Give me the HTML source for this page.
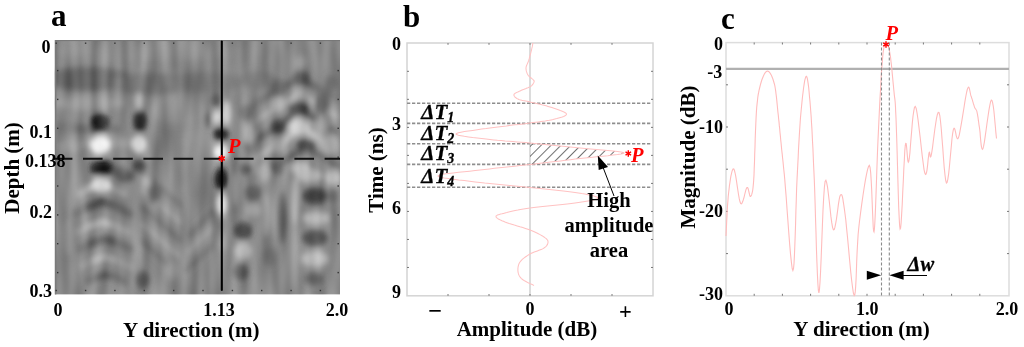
<!DOCTYPE html>
<html><head><meta charset="utf-8"><style>
html,body{margin:0;padding:0;background:#fff;width:1024px;height:347px;overflow:hidden}
svg{display:block}
text{font-family:'Liberation Serif','Times New Roman',serif;font-weight:bold;fill:#000}
</style></head><body>
<svg width="1024" height="347" viewBox="0 0 1024 347">
<defs>
<filter id="bl" x="-10%" y="-10%" width="120%" height="120%"><feGaussianBlur stdDeviation="2.7 3.4"/></filter>
<filter id="st" x="54.8" y="40" width="285.2" height="254.4" filterUnits="userSpaceOnUse" color-interpolation-filters="sRGB">
<feTurbulence type="fractalNoise" baseFrequency="0.1 0.018" numOctaves="1" seed="7" result="n"/>
<feColorMatrix in="n" type="matrix" values="1 0 0 0 0  1 0 0 0 0  1 0 0 0 0  0 0 0 0 1" result="g"/>
<feComposite in="SourceGraphic" in2="g" operator="arithmetic" k1="0" k2="1" k3="0.32" k4="-0.16"/>
</filter>
<clipPath id="ca"><rect x="54.8" y="40" width="285.2" height="254.4"/></clipPath>
<clipPath id="hc"><path d="M530,143 L530.0,143.0 L534.6,143.4 L539.5,143.9 L544.5,144.4 L549.6,144.9 L554.8,145.4 L560.0,145.9 L565.1,146.5 L570.2,147.0 L575.2,147.5 L580.0,148.0 L585.0,148.5 L590.6,149.0 L596.4,149.5 L602.3,150.0 L607.9,150.5 L613.0,151.0 L617.5,151.5 L620.9,152.0 L623.2,152.5 L624.0,153.0 L623.2,153.5 L620.9,154.1 L617.5,154.6 L613.0,155.1 L607.9,155.7 L602.3,156.2 L596.4,156.8 L590.6,157.4 L585.0,157.9 L580.0,158.5 L575.2,159.1 L570.4,159.7 L565.4,160.3 L560.4,160.9 L555.4,161.5 L550.3,162.1 L545.2,162.7 L540.1,163.3 L535.0,163.9 L530.0,164.5 L530,164.5 Z"/></clipPath>
<pattern id="hp" patternUnits="userSpaceOnUse" width="7" height="7" patternTransform="rotate(45 530 143)">
<line x1="0" y1="0" x2="0" y2="7" stroke="#222" stroke-width="1.3"/></pattern>
</defs>
<!-- panel a image -->
<g clip-path="url(#ca)"><g filter="url(#st)">
<rect x="54.8" y="40" width="285.2" height="254.4" fill="#888"/>
<g filter="url(#bl)"><line x1="80" y1="194" x2="90" y2="188" stroke="#a8a8a8" stroke-width="7" stroke-linecap="round"/><line x1="90" y1="188" x2="100" y2="185" stroke="#c8c8c8" stroke-width="7" stroke-linecap="round"/><line x1="100" y1="185" x2="112" y2="188" stroke="#c8c8c8" stroke-width="7" stroke-linecap="round"/><line x1="112" y1="188" x2="124" y2="194" stroke="#a8a8a8" stroke-width="7" stroke-linecap="round"/><line x1="76" y1="213" x2="88" y2="207" stroke="#707070" stroke-width="7" stroke-linecap="round"/><line x1="88" y1="207" x2="102" y2="202" stroke="#505050" stroke-width="7" stroke-linecap="round"/><line x1="102" y1="202" x2="115" y2="206" stroke="#505050" stroke-width="7" stroke-linecap="round"/><line x1="115" y1="206" x2="130" y2="214" stroke="#686868" stroke-width="7" stroke-linecap="round"/><line x1="78" y1="232" x2="90" y2="226" stroke="#a0a0a0" stroke-width="7" stroke-linecap="round"/><line x1="90" y1="226" x2="102" y2="222" stroke="#b8b8b8" stroke-width="7" stroke-linecap="round"/><line x1="102" y1="222" x2="115" y2="226" stroke="#b8b8b8" stroke-width="7" stroke-linecap="round"/><line x1="115" y1="226" x2="128" y2="232" stroke="#a0a0a0" stroke-width="7" stroke-linecap="round"/><line x1="80" y1="249" x2="92" y2="243" stroke="#707070" stroke-width="7" stroke-linecap="round"/><line x1="92" y1="243" x2="105" y2="239" stroke="#555555" stroke-width="7" stroke-linecap="round"/><line x1="105" y1="239" x2="118" y2="243" stroke="#555555" stroke-width="7" stroke-linecap="round"/><line x1="118" y1="243" x2="131" y2="249" stroke="#6c6c6c" stroke-width="7" stroke-linecap="round"/><line x1="82" y1="266" x2="94" y2="260" stroke="#9c9c9c" stroke-width="7" stroke-linecap="round"/><line x1="94" y1="260" x2="105" y2="257" stroke="#b0b0b0" stroke-width="7" stroke-linecap="round"/><line x1="105" y1="257" x2="118" y2="261" stroke="#b0b0b0" stroke-width="7" stroke-linecap="round"/><line x1="118" y1="261" x2="131" y2="267" stroke="#9c9c9c" stroke-width="7" stroke-linecap="round"/><line x1="88" y1="281" x2="98" y2="277" stroke="#6c6c6c" stroke-width="6" stroke-linecap="round"/><line x1="98" y1="277" x2="105" y2="275" stroke="#5a5a5a" stroke-width="6" stroke-linecap="round"/><line x1="105" y1="275" x2="115" y2="277" stroke="#5a5a5a" stroke-width="6" stroke-linecap="round"/><line x1="115" y1="277" x2="125" y2="282" stroke="#6c6c6c" stroke-width="6" stroke-linecap="round"/><line x1="142" y1="172" x2="180" y2="205" stroke="#707070" stroke-width="5" stroke-linecap="round"/><line x1="142" y1="190" x2="180" y2="222" stroke="#a0a0a0" stroke-width="5" stroke-linecap="round"/><line x1="142" y1="207" x2="180" y2="240" stroke="#707070" stroke-width="5" stroke-linecap="round"/><line x1="142" y1="224" x2="178" y2="255" stroke="#a0a0a0" stroke-width="5" stroke-linecap="round"/><line x1="142" y1="241" x2="172" y2="268" stroke="#727272" stroke-width="5" stroke-linecap="round"/><line x1="212" y1="212" x2="190" y2="235" stroke="#707070" stroke-width="5" stroke-linecap="round"/><line x1="212" y1="228" x2="188" y2="252" stroke="#a0a0a0" stroke-width="5" stroke-linecap="round"/><line x1="212" y1="246" x2="186" y2="270" stroke="#727272" stroke-width="5" stroke-linecap="round"/><line x1="246" y1="110" x2="262" y2="100" stroke="#787878" stroke-width="6" stroke-linecap="round"/><line x1="262" y1="100" x2="280" y2="88" stroke="#6c6c6c" stroke-width="6" stroke-linecap="round"/><line x1="280" y1="88" x2="300" y2="79" stroke="#606060" stroke-width="6" stroke-linecap="round"/><line x1="300" y1="79" x2="318" y2="88" stroke="#606060" stroke-width="6" stroke-linecap="round"/><line x1="318" y1="88" x2="336" y2="99" stroke="#707070" stroke-width="6" stroke-linecap="round"/><line x1="246" y1="128" x2="262" y2="117" stroke="#9c9c9c" stroke-width="6" stroke-linecap="round"/><line x1="262" y1="117" x2="280" y2="105" stroke="#a8a8a8" stroke-width="6" stroke-linecap="round"/><line x1="280" y1="105" x2="300" y2="95" stroke="#b4b4b4" stroke-width="6" stroke-linecap="round"/><line x1="300" y1="95" x2="318" y2="104" stroke="#b4b4b4" stroke-width="6" stroke-linecap="round"/><line x1="318" y1="104" x2="336" y2="116" stroke="#a4a4a4" stroke-width="6" stroke-linecap="round"/><line x1="246" y1="146" x2="262" y2="136" stroke="#6c6c6c" stroke-width="6" stroke-linecap="round"/><line x1="262" y1="136" x2="280" y2="126" stroke="#5c5c5c" stroke-width="6" stroke-linecap="round"/><line x1="280" y1="126" x2="300" y2="110" stroke="#505050" stroke-width="6" stroke-linecap="round"/><line x1="300" y1="110" x2="318" y2="120" stroke="#505050" stroke-width="6" stroke-linecap="round"/><line x1="318" y1="120" x2="336" y2="132" stroke="#626262" stroke-width="6" stroke-linecap="round"/><line x1="248" y1="163" x2="262" y2="154" stroke="#a0a0a0" stroke-width="7" stroke-linecap="round"/><line x1="262" y1="154" x2="280" y2="144" stroke="#acacac" stroke-width="7" stroke-linecap="round"/><line x1="280" y1="144" x2="300" y2="128" stroke="#b8b8b8" stroke-width="7" stroke-linecap="round"/><line x1="300" y1="128" x2="318" y2="138" stroke="#bcbcbc" stroke-width="7" stroke-linecap="round"/><line x1="318" y1="138" x2="336" y2="150" stroke="#a8a8a8" stroke-width="7" stroke-linecap="round"/><line x1="250" y1="180" x2="265" y2="170" stroke="#707070" stroke-width="6" stroke-linecap="round"/><line x1="265" y1="170" x2="283" y2="162" stroke="#666666" stroke-width="6" stroke-linecap="round"/><line x1="283" y1="162" x2="305" y2="147" stroke="#5c5c5c" stroke-width="6" stroke-linecap="round"/><line x1="305" y1="147" x2="322" y2="156" stroke="#585858" stroke-width="6" stroke-linecap="round"/><line x1="322" y1="156" x2="338" y2="166" stroke="#6a6a6a" stroke-width="6" stroke-linecap="round"/><ellipse cx="88" cy="79" rx="45" ry="12" fill="#666666"/><ellipse cx="148" cy="84" rx="38" ry="11" fill="#727272"/><ellipse cx="205" cy="82" rx="40" ry="10" fill="#7a7a7a"/><ellipse cx="150" cy="52" rx="95" ry="9" fill="#8e8e8e"/><ellipse cx="258" cy="80" rx="18" ry="9" fill="#7a7a7a"/><ellipse cx="88" cy="103" rx="38" ry="7" fill="#9a9a9a"/><ellipse cx="178" cy="110" rx="28" ry="14" fill="#8f8f8f"/><ellipse cx="301" cy="62" rx="7" ry="6" fill="#989898"/><ellipse cx="70" cy="127" rx="15" ry="6" fill="#7c7c7c"/><ellipse cx="70" cy="146" rx="15" ry="7" fill="#989898"/><ellipse cx="301" cy="78" rx="9" ry="7" fill="#5a5a5a"/><ellipse cx="301" cy="94" rx="9" ry="6" fill="#aaaaaa"/><ellipse cx="299" cy="108" rx="10" ry="7" fill="#4a4a4a"/><ellipse cx="299" cy="127" rx="11" ry="9" fill="#c8c8c8"/><ellipse cx="306" cy="145" rx="10" ry="6" fill="#4a4a4a"/><ellipse cx="278" cy="88" rx="8" ry="9" fill="#666666"/><ellipse cx="278" cy="105" rx="8" ry="8" fill="#b0b0b0"/><ellipse cx="278" cy="127" rx="8" ry="7" fill="#4a4a4a"/><ellipse cx="278" cy="145" rx="8" ry="8" fill="#b0b0b0"/><ellipse cx="322" cy="104" rx="7" ry="10" fill="#6a6a6a"/><ellipse cx="322" cy="125" rx="7" ry="8" fill="#9a9a9a"/><ellipse cx="246" cy="113" rx="6" ry="8" fill="#666666"/><ellipse cx="250" cy="135" rx="6" ry="10" fill="#b0b0b0"/><ellipse cx="331" cy="84" rx="6" ry="9" fill="#707070"/><ellipse cx="330" cy="145" rx="10" ry="10" fill="#a8a8a8"/><ellipse cx="300" cy="168" rx="10" ry="7" fill="#bbbbbb"/><ellipse cx="278" cy="168" rx="6" ry="7" fill="#666666"/><ellipse cx="246" cy="169" rx="6" ry="6" fill="#555555"/><ellipse cx="310" cy="176" rx="13" ry="7" fill="#b8b8b8"/><ellipse cx="315" cy="196" rx="13" ry="8" fill="#4c4c4c"/><ellipse cx="316" cy="218" rx="14" ry="7" fill="#b8b8b8"/><ellipse cx="315" cy="238" rx="13" ry="8" fill="#4c4c4c"/><ellipse cx="315" cy="259" rx="14" ry="8" fill="#b6b6b6"/><ellipse cx="314" cy="279" rx="10" ry="6" fill="#606060"/><ellipse cx="253" cy="193" rx="8" ry="9" fill="#5c5c5c"/><ellipse cx="253" cy="210" rx="8" ry="7" fill="#a4a4a4"/><ellipse cx="243" cy="231" rx="9" ry="9" fill="#404040"/><ellipse cx="243" cy="251" rx="9" ry="9" fill="#b0b0b0"/><ellipse cx="241" cy="272" rx="8" ry="8" fill="#5e5e5e"/><ellipse cx="264" cy="172" rx="7" ry="10" fill="#a4a4a4"/><ellipse cx="266" cy="215" rx="4" ry="22" fill="#a6a6a6"/><ellipse cx="282" cy="218" rx="4" ry="26" fill="#686868"/><ellipse cx="295" cy="200" rx="4" ry="24" fill="#a6a6a6"/><ellipse cx="270" cy="257" rx="8" ry="9" fill="#7a7a7a"/><ellipse cx="333" cy="178" rx="8" ry="8" fill="#bbbbbb"/><ellipse cx="333" cy="196" rx="6" ry="6" fill="#707070"/><ellipse cx="216" cy="100" rx="5" ry="7" fill="#606060"/><ellipse cx="217" cy="117" rx="4" ry="8" fill="#e0e0e0"/><ellipse cx="226.5" cy="113" rx="4" ry="13" fill="#d8d8d8"/><ellipse cx="208" cy="120" rx="3" ry="8" fill="#606060"/><ellipse cx="221" cy="134" rx="8" ry="7" fill="#222222"/><ellipse cx="221" cy="152" rx="7" ry="8" fill="#f2f2f2"/><ellipse cx="221" cy="179" rx="7" ry="11" fill="#1a1a1a"/><ellipse cx="221.5" cy="204" rx="6" ry="11" fill="#d8d8d8"/><ellipse cx="222" cy="226" rx="5" ry="6" fill="#787878"/><ellipse cx="222" cy="244" rx="5" ry="6" fill="#969696"/><ellipse cx="235" cy="189" rx="3" ry="17" fill="#b0b0b0"/><ellipse cx="154" cy="194" rx="6" ry="9" fill="#626262"/><ellipse cx="172" cy="271" rx="6" ry="9" fill="#989898"/><ellipse cx="150" cy="165" rx="2.5" ry="20" fill="#949494"/><ellipse cx="171" cy="160" rx="2.5" ry="22" fill="#949494"/><ellipse cx="194" cy="170" rx="2.5" ry="20" fill="#949494"/><ellipse cx="159" cy="160" rx="3" ry="22" fill="#7c7c7c"/><ellipse cx="183" cy="165" rx="3" ry="22" fill="#7c7c7c"/><ellipse cx="96" cy="129" rx="26" ry="4" fill="#6c6c6c"/><ellipse cx="112" cy="143" rx="36" ry="5" fill="#9c9c9c"/><ellipse cx="100" cy="123" rx="10" ry="10" fill="#282828"/><ellipse cx="100" cy="145" rx="10" ry="10" fill="#eaeaea"/><ellipse cx="102" cy="168" rx="12" ry="8" fill="#1e1e1e"/><ellipse cx="126" cy="176" rx="9" ry="6" fill="#505050"/><ellipse cx="101" cy="185" rx="10" ry="8" fill="#e5e5e5"/><ellipse cx="68" cy="237" rx="5" ry="18" fill="#999999"/><ellipse cx="139" cy="102" rx="4" ry="9" fill="#b0b0b0"/><ellipse cx="140" cy="121" rx="7" ry="11" fill="#303030"/><ellipse cx="139" cy="144" rx="7" ry="10" fill="#e8e8e8"/><ellipse cx="140" cy="166" rx="8" ry="6" fill="#444444"/><ellipse cx="146" cy="182" rx="5" ry="6" fill="#a8a8a8"/><ellipse cx="120" cy="172" rx="8" ry="5" fill="#606060"/><ellipse cx="143" cy="280" rx="7" ry="9" fill="#5a5a5a"/></g>
</g></g>
<line x1="55" y1="40.6" x2="340" y2="40.6" stroke="#777" stroke-width="1"/>
<line x1="55.6" y1="40" x2="55.6" y2="294.4" stroke="#7a7a7a" stroke-width="1.5"/>
<rect x="55.5" y="42.5" width="1.4" height="1.4" fill="#333"/><rect x="55.5" y="289.8" width="1.4" height="1.4" fill="#333"/><rect x="84.9" y="42.5" width="1.4" height="1.4" fill="#333"/><rect x="84.9" y="289.8" width="1.4" height="1.4" fill="#333"/><rect x="114.2" y="42.5" width="1.4" height="1.4" fill="#333"/><rect x="114.2" y="289.8" width="1.4" height="1.4" fill="#333"/><rect x="143.6" y="42.5" width="1.4" height="1.4" fill="#333"/><rect x="143.6" y="289.8" width="1.4" height="1.4" fill="#333"/><rect x="173.0" y="42.5" width="1.4" height="1.4" fill="#333"/><rect x="173.0" y="289.8" width="1.4" height="1.4" fill="#333"/><rect x="202.3" y="42.5" width="1.4" height="1.4" fill="#333"/><rect x="202.3" y="289.8" width="1.4" height="1.4" fill="#333"/><rect x="231.7" y="42.5" width="1.4" height="1.4" fill="#333"/><rect x="231.7" y="289.8" width="1.4" height="1.4" fill="#333"/><rect x="261.0" y="42.5" width="1.4" height="1.4" fill="#333"/><rect x="261.0" y="289.8" width="1.4" height="1.4" fill="#333"/><rect x="290.4" y="42.5" width="1.4" height="1.4" fill="#333"/><rect x="290.4" y="289.8" width="1.4" height="1.4" fill="#333"/><rect x="319.7" y="42.5" width="1.4" height="1.4" fill="#333"/><rect x="319.7" y="289.8" width="1.4" height="1.4" fill="#333"/><rect x="57" y="69.9" width="1.4" height="1.4" fill="#333"/><rect x="337.5" y="69.9" width="1.4" height="1.4" fill="#333"/><rect x="57" y="98.7" width="1.4" height="1.4" fill="#333"/><rect x="337.5" y="98.7" width="1.4" height="1.4" fill="#333"/><rect x="57" y="127.6" width="1.4" height="1.4" fill="#333"/><rect x="337.5" y="127.6" width="1.4" height="1.4" fill="#333"/><rect x="57" y="156.5" width="1.4" height="1.4" fill="#333"/><rect x="337.5" y="156.5" width="1.4" height="1.4" fill="#333"/><rect x="57" y="185.3" width="1.4" height="1.4" fill="#333"/><rect x="337.5" y="185.3" width="1.4" height="1.4" fill="#333"/><rect x="57" y="214.2" width="1.4" height="1.4" fill="#333"/><rect x="337.5" y="214.2" width="1.4" height="1.4" fill="#333"/><rect x="57" y="243.0" width="1.4" height="1.4" fill="#333"/><rect x="337.5" y="243.0" width="1.4" height="1.4" fill="#333"/><rect x="57" y="271.9" width="1.4" height="1.4" fill="#333"/><rect x="337.5" y="271.9" width="1.4" height="1.4" fill="#333"/>
<line x1="221.8" y1="41.5" x2="221.8" y2="290" stroke="#000" stroke-width="2.1" stroke-linecap="round"/>
<line x1="52.8" y1="158.8" x2="340" y2="158.8" stroke="#111" stroke-width="2" stroke-dasharray="19.6 10.6"/>
<line x1="221.70" y1="155.00" x2="221.70" y2="162.00" stroke="#ff0000" stroke-width="1.6"/><line x1="224.73" y1="156.75" x2="218.67" y2="160.25" stroke="#ff0000" stroke-width="1.6"/><line x1="224.73" y1="160.25" x2="218.67" y2="156.75" stroke="#ff0000" stroke-width="1.6"/>
<!-- panel b -->
<rect x="407" y="43" width="246" height="252.8" fill="none" stroke="#d4d4d4" stroke-width="1.5"/>
<line x1="530" y1="43" x2="530" y2="295.8" stroke="#d0d0d0" stroke-width="1.5"/>
<line x1="448" y1="43" x2="448" y2="44.8" stroke="#777" stroke-width="1"/><line x1="448" y1="295.8" x2="448" y2="294" stroke="#777" stroke-width="1"/><line x1="489" y1="43" x2="489" y2="44.8" stroke="#777" stroke-width="1"/><line x1="489" y1="295.8" x2="489" y2="294" stroke="#777" stroke-width="1"/><line x1="530" y1="43" x2="530" y2="44.8" stroke="#777" stroke-width="1"/><line x1="530" y1="295.8" x2="530" y2="294" stroke="#777" stroke-width="1"/><line x1="571" y1="43" x2="571" y2="44.8" stroke="#777" stroke-width="1"/><line x1="571" y1="295.8" x2="571" y2="294" stroke="#777" stroke-width="1"/><line x1="612" y1="43" x2="612" y2="44.8" stroke="#777" stroke-width="1"/><line x1="612" y1="295.8" x2="612" y2="294" stroke="#777" stroke-width="1"/><line x1="407" y1="71.32" x2="409" y2="71.32" stroke="#777" stroke-width="1"/><line x1="653" y1="71.32" x2="651" y2="71.32" stroke="#777" stroke-width="1"/><line x1="407" y1="99.34" x2="409" y2="99.34" stroke="#777" stroke-width="1"/><line x1="653" y1="99.34" x2="651" y2="99.34" stroke="#777" stroke-width="1"/><line x1="407" y1="127.36" x2="409" y2="127.36" stroke="#777" stroke-width="1"/><line x1="653" y1="127.36" x2="651" y2="127.36" stroke="#777" stroke-width="1"/><line x1="407" y1="155.38" x2="409" y2="155.38" stroke="#777" stroke-width="1"/><line x1="653" y1="155.38" x2="651" y2="155.38" stroke="#777" stroke-width="1"/><line x1="407" y1="183.39999999999998" x2="409" y2="183.39999999999998" stroke="#777" stroke-width="1"/><line x1="653" y1="183.39999999999998" x2="651" y2="183.39999999999998" stroke="#777" stroke-width="1"/><line x1="407" y1="211.42000000000002" x2="409" y2="211.42000000000002" stroke="#777" stroke-width="1"/><line x1="653" y1="211.42000000000002" x2="651" y2="211.42000000000002" stroke="#777" stroke-width="1"/><line x1="407" y1="239.44" x2="409" y2="239.44" stroke="#777" stroke-width="1"/><line x1="653" y1="239.44" x2="651" y2="239.44" stroke="#777" stroke-width="1"/><line x1="407" y1="267.46" x2="409" y2="267.46" stroke="#777" stroke-width="1"/><line x1="653" y1="267.46" x2="651" y2="267.46" stroke="#777" stroke-width="1"/>
<g stroke="#8e8e8e" stroke-width="1.6" stroke-dasharray="3.3 1.7">
<line x1="407" y1="103.3" x2="651" y2="103.3"/>
<line x1="407" y1="123.4" x2="651" y2="123.4"/>
<line x1="407" y1="143.8" x2="651" y2="143.8"/>
<line x1="407" y1="164.4" x2="651" y2="164.4"/>
<line x1="407" y1="187.2" x2="651" y2="187.2"/>
</g>
<rect x="500" y="130" width="160" height="50" fill="url(#hp)" clip-path="url(#hc)"/>
<path d="M533.0,43.0 L532.9,43.5 L532.7,44.2 L532.6,45.0 L532.4,46.0 L532.2,46.9 L531.9,48.0 L531.7,49.0 L531.5,50.1 L531.2,51.1 L531.0,52.0 L530.8,52.9 L530.5,53.8 L530.3,54.8 L530.0,55.7 L529.8,56.6 L529.5,57.5 L529.3,58.4 L529.0,59.3 L528.8,60.2 L528.5,61.0 L528.2,61.8 L527.9,62.5 L527.6,63.2 L527.3,63.9 L527.0,64.6 L526.7,65.3 L526.4,66.0 L526.2,66.6 L526.1,67.3 L526.0,68.0 L526.0,68.7 L526.1,69.4 L526.2,70.2 L526.3,70.9 L526.5,71.7 L526.8,72.4 L527.0,73.1 L527.3,73.8 L527.7,74.4 L528.0,75.0 L528.4,75.6 L528.9,76.1 L529.4,76.6 L530.0,77.1 L530.6,77.5 L531.1,78.0 L531.7,78.4 L532.2,78.8 L532.6,79.1 L533.0,79.5 L533.3,79.8 L533.5,80.1 L533.7,80.3 L533.9,80.5 L534.0,80.8 L534.1,81.0 L534.2,81.2 L534.2,81.4 L534.1,81.7 L534.0,82.0 L533.9,82.4 L533.7,82.8 L533.5,83.2 L533.2,83.7 L532.9,84.2 L532.5,84.6 L532.1,85.1 L531.7,85.6 L531.1,86.1 L530.5,86.5 L529.8,86.9 L528.9,87.3 L528.0,87.7 L527.0,88.1 L526.0,88.5 L524.9,88.9 L523.9,89.3 L522.8,89.7 L521.9,90.1 L521.0,90.5 L520.1,90.9 L519.3,91.3 L518.4,91.7 L517.5,92.1 L516.7,92.5 L515.9,92.9 L515.2,93.3 L514.7,93.7 L514.2,94.1 L514.0,94.5 L513.9,94.9 L514.0,95.4 L514.1,95.9 L514.4,96.3 L514.8,96.8 L515.3,97.3 L515.9,97.7 L516.5,98.2 L517.2,98.6 L518.0,99.0 L518.8,99.4 L519.8,99.7 L520.8,99.9 L521.8,100.2 L523.0,100.5 L524.2,100.7 L525.6,101.0 L527.0,101.3 L528.4,101.6 L530.0,102.0 L531.7,102.4 L533.5,102.8 L535.5,103.3 L537.6,103.8 L539.7,104.2 L541.9,104.8 L544.0,105.3 L546.1,105.8 L548.1,106.4 L550.0,107.0 L551.9,107.6 L554.0,108.3 L556.2,109.0 L558.3,109.7 L560.3,110.5 L562.2,111.2 L563.9,111.9 L565.2,112.7 L566.1,113.4 L566.5,114.0 L566.4,114.6 L565.9,115.2 L565.0,115.8 L563.7,116.4 L562.2,117.0 L560.5,117.5 L558.7,118.0 L556.8,118.6 L554.9,119.0 L553.0,119.5 L551.2,119.9 L549.3,120.3 L547.3,120.6 L545.3,121.0 L543.2,121.3 L540.9,121.6 L538.4,121.9 L535.8,122.2 L533.0,122.6 L530.0,123.0 L526.7,123.4 L523.0,123.9 L519.1,124.4 L514.9,124.8 L510.7,125.3 L506.4,125.9 L502.1,126.4 L497.9,126.9 L493.8,127.5 L490.0,128.0 L486.1,128.6 L481.7,129.1 L477.2,129.7 L472.7,130.4 L468.4,131.0 L464.4,131.6 L461.0,132.2 L458.4,132.8 L456.6,133.4 L456.0,134.0 L456.6,134.6 L458.4,135.2 L461.0,135.7 L464.4,136.3 L468.4,136.9 L472.7,137.5 L477.2,138.0 L481.7,138.5 L486.1,139.0 L490.0,139.5 L493.7,139.9 L497.5,140.3 L501.2,140.6 L505.1,141.0 L509.0,141.3 L513.0,141.6 L517.1,141.9 L521.3,142.2 L525.6,142.6 L530.0,143.0 L534.6,143.4 L539.5,143.9 L544.5,144.4 L549.6,144.9 L554.8,145.4 L560.0,145.9 L565.1,146.5 L570.2,147.0 L575.2,147.5 L580.0,148.0 L585.0,148.5 L590.6,149.0 L596.4,149.5 L602.3,150.0 L607.9,150.5 L613.0,151.0 L617.5,151.5 L620.9,152.0 L623.2,152.5 L624.0,153.0 L623.2,153.5 L620.9,154.1 L617.5,154.6 L613.0,155.1 L607.9,155.7 L602.3,156.2 L596.4,156.8 L590.6,157.4 L585.0,157.9 L580.0,158.5 L575.2,159.1 L570.4,159.7 L565.4,160.3 L560.4,160.9 L555.4,161.5 L550.3,162.1 L545.2,162.7 L540.1,163.3 L535.0,163.9 L530.0,164.5 L525.0,165.1 L519.9,165.6 L514.7,166.2 L509.6,166.7 L504.5,167.2 L499.4,167.8 L494.4,168.3 L489.5,168.9 L484.7,169.4 L480.0,170.0 L475.1,170.6 L469.7,171.2 L464.2,171.7 L458.6,172.3 L453.2,172.9 L448.4,173.5 L444.2,174.1 L440.9,174.8 L438.8,175.4 L438.0,176.0 L438.8,176.6 L440.9,177.3 L444.2,178.0 L448.4,178.6 L453.2,179.3 L458.6,180.0 L464.2,180.6 L469.7,181.3 L475.1,181.9 L480.0,182.5 L484.7,183.1 L489.6,183.6 L494.6,184.1 L499.7,184.6 L504.8,185.1 L510.0,185.6 L515.1,186.0 L520.2,186.5 L525.2,187.0 L530.0,187.5 L534.8,188.0 L539.7,188.5 L544.6,189.0 L549.4,189.5 L554.2,190.0 L558.8,190.5 L563.3,191.0 L567.5,191.5 L571.4,192.0 L575.0,192.5 L578.4,193.0 L581.7,193.6 L585.0,194.1 L588.0,194.7 L590.8,195.2 L593.2,195.8 L595.2,196.4 L596.7,196.9 L597.7,197.5 L598.0,198.0 L597.7,198.5 L596.7,199.0 L595.2,199.5 L593.2,200.0 L590.8,200.5 L588.0,201.0 L585.0,201.5 L581.7,202.0 L578.4,202.5 L575.0,203.0 L571.3,203.5 L567.1,204.0 L562.5,204.5 L557.6,205.0 L552.6,205.5 L547.6,206.0 L542.7,206.5 L538.1,207.0 L533.8,207.5 L530.0,208.0 L526.6,208.5 L523.5,209.0 L520.5,209.5 L517.8,210.1 L515.2,210.6 L512.9,211.1 L510.7,211.6 L508.7,212.1 L506.8,212.6 L505.0,213.0 L503.4,213.4 L501.9,213.8 L500.6,214.1 L499.4,214.4 L498.4,214.7 L497.5,215.0 L496.9,215.4 L496.4,215.7 L496.1,216.1 L496.0,216.5 L496.1,217.0 L496.4,217.4 L496.9,217.9 L497.5,218.4 L498.4,219.0 L499.4,219.5 L500.6,220.1 L501.9,220.7 L503.4,221.3 L505.0,222.0 L506.9,222.7 L509.2,223.5 L511.7,224.2 L514.4,225.1 L517.2,225.9 L520.0,226.8 L522.8,227.6 L525.4,228.4 L527.9,229.2 L530.0,230.0 L531.9,230.7 L533.7,231.5 L535.3,232.2 L536.9,233.0 L538.3,233.7 L539.6,234.4 L540.9,235.1 L542.0,235.7 L543.1,236.4 L544.0,237.0 L544.8,237.6 L545.6,238.1 L546.2,238.6 L546.7,239.1 L547.1,239.6 L547.5,240.0 L547.7,240.5 L547.9,241.0 L548.0,241.5 L548.0,242.0 L548.0,242.6 L547.9,243.1 L547.7,243.7 L547.5,244.3 L547.1,244.9 L546.7,245.6 L546.2,246.2 L545.6,246.8 L544.8,247.4 L544.0,248.0 L543.0,248.6 L541.8,249.2 L540.4,249.7 L538.9,250.3 L537.4,250.9 L535.8,251.5 L534.2,252.1 L532.7,252.7 L531.3,253.3 L530.0,254.0 L528.8,254.7 L527.6,255.4 L526.5,256.2 L525.3,257.0 L524.2,257.8 L523.2,258.6 L522.3,259.4 L521.4,260.3 L520.7,261.1 L520.0,262.0 L519.4,262.9 L519.0,263.8 L518.6,264.8 L518.3,265.8 L518.1,266.8 L518.0,267.8 L517.9,268.7 L517.9,269.7 L517.9,270.6 L518.0,271.5 L518.1,272.3 L518.3,273.1 L518.5,273.9 L518.8,274.7 L519.1,275.4 L519.5,276.2 L520.0,276.9 L520.6,277.6 L521.2,278.3 L522.0,279.0 L522.9,279.7 L524.1,280.5 L525.4,281.2 L526.8,282.0 L528.2,282.7 L529.7,283.4 L531.0,284.1 L532.2,284.6 L533.3,285.1 L534.0,285.5" fill="none" stroke="#ffc2c2" stroke-width="1.05"/>
<line x1="628.30" y1="150.30" x2="628.30" y2="156.70" stroke="#ff0000" stroke-width="1.4"/><line x1="631.07" y1="151.90" x2="625.53" y2="155.10" stroke="#ff0000" stroke-width="1.4"/><line x1="631.07" y1="155.10" x2="625.53" y2="151.90" stroke="#ff0000" stroke-width="1.4"/>
<line x1="614" y1="196" x2="601" y2="162" stroke="#000" stroke-width="1"/>
<polygon points="597.8,155.6 598.7,170 608,167" fill="#000"/>
<!-- panel c -->
<rect x="726" y="42.6" width="283" height="253.2" fill="none" stroke="#ddd" stroke-width="1.5"/>
<line x1="754.2" y1="42.5" x2="754.2" y2="44.5" stroke="#777" stroke-width="1"/><line x1="754.2" y1="295.8" x2="754.2" y2="293.8" stroke="#777" stroke-width="1"/><line x1="782.4" y1="42.5" x2="782.4" y2="44.5" stroke="#777" stroke-width="1"/><line x1="782.4" y1="295.8" x2="782.4" y2="293.8" stroke="#777" stroke-width="1"/><line x1="810.6" y1="42.5" x2="810.6" y2="44.5" stroke="#777" stroke-width="1"/><line x1="810.6" y1="295.8" x2="810.6" y2="293.8" stroke="#777" stroke-width="1"/><line x1="838.8" y1="42.5" x2="838.8" y2="44.5" stroke="#777" stroke-width="1"/><line x1="838.8" y1="295.8" x2="838.8" y2="293.8" stroke="#777" stroke-width="1"/><line x1="867.0" y1="42.5" x2="867.0" y2="44.5" stroke="#777" stroke-width="1"/><line x1="867.0" y1="295.8" x2="867.0" y2="293.8" stroke="#777" stroke-width="1"/><line x1="895.2" y1="42.5" x2="895.2" y2="44.5" stroke="#777" stroke-width="1"/><line x1="895.2" y1="295.8" x2="895.2" y2="293.8" stroke="#777" stroke-width="1"/><line x1="923.4" y1="42.5" x2="923.4" y2="44.5" stroke="#777" stroke-width="1"/><line x1="923.4" y1="295.8" x2="923.4" y2="293.8" stroke="#777" stroke-width="1"/><line x1="951.6" y1="42.5" x2="951.6" y2="44.5" stroke="#777" stroke-width="1"/><line x1="951.6" y1="295.8" x2="951.6" y2="293.8" stroke="#777" stroke-width="1"/><line x1="979.8" y1="42.5" x2="979.8" y2="44.5" stroke="#777" stroke-width="1"/><line x1="979.8" y1="295.8" x2="979.8" y2="293.8" stroke="#777" stroke-width="1"/><line x1="726" y1="84.8" x2="728" y2="84.8" stroke="#777" stroke-width="1"/><line x1="1009" y1="84.8" x2="1007" y2="84.8" stroke="#777" stroke-width="1"/><line x1="726" y1="127.0" x2="728" y2="127.0" stroke="#777" stroke-width="1"/><line x1="1009" y1="127.0" x2="1007" y2="127.0" stroke="#777" stroke-width="1"/><line x1="726" y1="169.2" x2="728" y2="169.2" stroke="#777" stroke-width="1"/><line x1="1009" y1="169.2" x2="1007" y2="169.2" stroke="#777" stroke-width="1"/><line x1="726" y1="211.4" x2="728" y2="211.4" stroke="#777" stroke-width="1"/><line x1="1009" y1="211.4" x2="1007" y2="211.4" stroke="#777" stroke-width="1"/><line x1="726" y1="253.6" x2="728" y2="253.6" stroke="#777" stroke-width="1"/><line x1="1009" y1="253.6" x2="1007" y2="253.6" stroke="#777" stroke-width="1"/>
<line x1="726" y1="68.9" x2="1009" y2="68.9" stroke="#b0b0b0" stroke-width="2.2"/>
<path d="M726.0,236.0 L726.1,233.4 L726.3,229.8 L726.5,225.7 L726.7,221.0 L727.0,216.0 L727.2,210.9 L727.5,205.9 L727.9,201.1 L728.2,196.7 L728.6,193.0 L729.0,189.6 L729.4,186.0 L729.9,182.6 L730.4,179.2 L730.9,176.2 L731.5,173.5 L732.0,171.3 L732.6,169.8 L733.2,168.9 L733.8,169.0 L734.4,170.3 L735.1,173.0 L735.8,176.6 L736.5,181.0 L737.2,185.8 L737.9,190.5 L738.6,195.0 L739.3,198.9 L740.0,201.8 L740.7,203.5 L741.4,203.8 L742.0,203.1 L742.7,201.6 L743.4,199.5 L744.1,197.1 L744.7,194.5 L745.3,192.1 L745.9,189.9 L746.5,188.3 L747.0,187.5 L747.5,187.5 L747.9,188.1 L748.3,189.2 L748.6,190.5 L748.9,192.0 L749.3,193.5 L749.6,194.9 L749.9,195.9 L750.2,196.5 L750.5,196.5 L750.8,196.1 L751.2,195.7 L751.5,195.0 L751.8,194.2 L752.1,193.1 L752.5,191.5 L752.8,189.5 L753.1,187.0 L753.4,183.9 L753.7,180.0 L754.0,175.1 L754.2,169.1 L754.5,162.1 L754.7,154.6 L755.0,146.7 L755.2,138.8 L755.5,131.1 L755.8,123.9 L756.1,117.4 L756.4,112.0 L756.7,107.5 L757.1,103.6 L757.5,100.2 L757.8,97.2 L758.2,94.6 L758.7,92.2 L759.1,90.0 L759.6,88.0 L760.1,86.0 L760.6,84.0 L761.2,82.0 L761.8,80.0 L762.5,78.2 L763.2,76.5 L763.9,74.9 L764.6,73.6 L765.3,72.5 L766.1,71.7 L766.8,71.2 L767.5,71.0 L768.2,71.2 L768.9,71.7 L769.7,72.5 L770.4,73.6 L771.2,74.9 L771.9,76.5 L772.6,78.2 L773.2,80.0 L773.8,82.0 L774.4,84.0 L774.9,86.2 L775.3,88.5 L775.7,91.1 L776.0,93.8 L776.4,96.6 L776.7,99.6 L777.0,102.6 L777.3,105.7 L777.6,108.9 L777.9,112.0 L778.3,115.2 L778.6,118.5 L779.0,121.9 L779.3,125.4 L779.7,129.0 L780.0,132.5 L780.4,136.1 L780.7,139.7 L781.1,143.2 L781.4,146.6 L781.7,149.7 L782.0,152.4 L782.3,154.9 L782.5,157.3 L782.8,159.8 L783.1,162.6 L783.4,165.8 L783.8,169.7 L784.3,174.4 L784.8,180.0 L785.4,187.6 L786.2,197.3 L787.0,208.7 L787.9,220.8 L788.8,233.0 L789.7,244.6 L790.6,254.9 L791.5,263.1 L792.2,268.5 L792.9,270.5 L793.5,268.7 L794.0,263.6 L794.4,255.9 L794.8,246.3 L795.2,235.2 L795.6,223.3 L795.9,211.2 L796.3,199.6 L796.6,189.0 L797.0,180.0 L797.4,172.1 L797.8,164.4 L798.2,156.9 L798.5,149.6 L798.9,142.6 L799.3,135.8 L799.7,129.3 L800.1,123.2 L800.5,117.4 L801.0,112.0 L801.5,106.8 L802.0,101.7 L802.5,96.7 L803.1,92.0 L803.6,87.7 L804.2,83.9 L804.7,80.7 L805.3,78.4 L805.8,76.8 L806.3,76.3 L806.8,76.8 L807.3,78.4 L807.7,80.7 L808.2,83.9 L808.7,87.7 L809.1,92.0 L809.5,96.7 L810.0,101.7 L810.4,106.8 L810.8,112.0 L811.2,117.3 L811.5,122.8 L811.9,128.6 L812.2,134.7 L812.5,141.2 L812.9,148.0 L813.2,155.3 L813.5,163.0 L813.9,171.2 L814.3,180.0 L814.7,190.5 L815.1,203.3 L815.5,217.7 L816.0,232.7 L816.4,247.7 L816.9,261.8 L817.4,274.2 L817.9,284.0 L818.4,290.6 L818.9,293.0 L819.4,290.2 L820.0,282.5 L820.6,271.0 L821.2,256.9 L821.8,241.3 L822.4,225.4 L823.0,210.3 L823.7,197.2 L824.4,187.2 L825.1,181.5 L825.9,180.2 L826.6,182.3 L827.5,186.9 L828.3,193.3 L829.2,200.8 L830.1,208.8 L830.9,216.4 L831.8,222.9 L832.6,227.6 L833.4,229.8 L834.2,229.5 L834.9,227.4 L835.6,223.9 L836.4,219.4 L837.1,214.4 L837.8,209.3 L838.4,204.4 L839.1,200.1 L839.7,197.0 L840.3,195.3 L840.8,194.7 L841.3,194.6 L841.7,194.9 L842.1,195.8 L842.5,197.2 L842.9,199.2 L843.3,201.9 L843.8,205.1 L844.4,209.1 L845.0,213.7 L845.8,220.0 L846.6,228.4 L847.6,238.3 L848.6,249.0 L849.6,260.0 L850.6,270.5 L851.6,280.0 L852.6,287.7 L853.4,293.1 L854.2,295.5 L854.8,294.7 L855.3,291.4 L855.7,285.9 L856.1,278.8 L856.4,270.5 L856.7,261.5 L857.1,252.2 L857.6,243.1 L858.1,234.7 L858.8,227.5 L859.6,220.5 L860.6,212.6 L861.7,204.4 L862.9,196.0 L864.1,188.0 L865.3,180.6 L866.5,174.3 L867.6,169.4 L868.6,166.3 L869.4,165.3 L870.1,167.5 L870.7,172.9 L871.2,180.8 L871.7,190.3 L872.1,200.5 L872.5,210.6 L872.9,219.6 L873.2,226.8 L873.6,231.2 L874.0,232.0 L874.4,229.2 L874.8,223.5 L875.2,215.5 L875.6,205.8 L876.0,194.9 L876.4,183.2 L876.8,171.3 L877.2,159.9 L877.6,149.2 L878.0,140.0 L878.4,131.6 L878.8,123.0 L879.2,114.5 L879.6,106.2 L880.0,98.1 L880.5,90.3 L880.9,83.0 L881.2,76.3 L881.6,70.2 L882.0,65.0 L882.4,60.6 L882.7,56.9 L883.0,53.8 L883.3,51.3 L883.6,49.3 L883.9,47.7 L884.3,46.5 L884.6,45.5 L884.9,44.7 L885.3,44.0 L885.7,43.5 L886.1,43.3 L886.5,43.3 L887.0,43.7 L887.4,44.3 L887.9,45.2 L888.4,46.5 L888.8,48.0 L889.3,49.9 L889.7,52.0 L890.1,54.6 L890.6,57.8 L891.0,61.5 L891.5,65.5 L891.9,69.8 L892.3,74.1 L892.7,78.4 L893.1,82.6 L893.5,86.5 L893.8,90.0 L894.1,92.8 L894.3,94.9 L894.5,96.5 L894.7,97.9 L894.9,99.4 L895.1,101.3 L895.3,103.8 L895.5,107.2 L895.7,111.9 L896.0,118.0 L896.3,126.6 L896.7,138.0 L897.1,151.3 L897.5,165.8 L897.9,180.5 L898.3,194.6 L898.7,207.4 L899.2,217.9 L899.6,225.4 L900.1,229.0 L900.6,228.1 L901.1,223.1 L901.6,215.1 L902.2,204.8 L902.7,193.1 L903.3,181.0 L903.8,169.3 L904.4,158.9 L904.8,150.6 L905.3,145.4 L905.7,143.3 L906.1,143.4 L906.4,145.1 L906.7,148.0 L907.0,151.6 L907.3,155.3 L907.6,158.7 L907.9,161.2 L908.3,162.2 L908.8,161.4 L909.3,158.2 L909.9,153.0 L910.4,146.3 L911.0,138.7 L911.7,130.7 L912.3,123.1 L913.0,116.2 L913.8,110.8 L914.5,107.3 L915.3,106.4 L916.2,108.5 L917.1,113.3 L918.1,120.2 L919.1,128.5 L920.2,137.5 L921.2,146.8 L922.2,155.6 L923.2,163.3 L924.0,169.3 L924.8,173.0 L925.5,174.4 L926.0,174.1 L926.5,172.6 L927.0,170.1 L927.4,166.9 L927.8,163.4 L928.1,159.9 L928.5,156.7 L928.8,154.2 L929.1,152.7 L929.4,152.2 L929.6,152.4 L929.7,153.1 L929.9,154.1 L930.0,155.2 L930.1,156.2 L930.3,156.9 L930.5,157.0 L930.9,156.5 L931.3,155.0 L931.8,152.1 L932.5,147.6 L933.2,142.0 L934.0,135.8 L934.8,129.5 L935.7,123.5 L936.5,118.4 L937.4,114.5 L938.2,112.4 L939.0,112.5 L939.8,115.5 L940.5,121.3 L941.3,129.2 L942.0,138.5 L942.8,148.4 L943.5,158.3 L944.2,167.4 L945.0,175.0 L945.7,180.5 L946.4,183.0 L947.1,182.4 L947.8,179.3 L948.6,174.2 L949.3,167.7 L950.0,160.3 L950.7,152.6 L951.4,145.2 L952.0,138.5 L952.7,133.2 L953.3,129.8 L953.9,128.4 L954.4,128.4 L954.9,129.4 L955.3,131.2 L955.8,133.4 L956.2,135.6 L956.7,137.4 L957.3,138.6 L957.8,138.8 L958.5,137.6 L959.3,134.8 L960.1,130.7 L961.0,125.6 L962.0,119.8 L963.0,113.6 L964.0,107.5 L964.9,101.7 L965.8,96.5 L966.6,92.4 L967.3,89.5 L967.9,87.9 L968.4,87.2 L968.8,87.3 L969.2,88.0 L969.5,89.1 L969.8,90.5 L970.1,92.0 L970.4,93.5 L970.7,94.9 L971.0,96.0 L971.4,96.9 L971.7,98.0 L972.1,99.2 L972.5,100.4 L972.8,101.6 L973.2,102.8 L973.5,104.0 L973.9,105.1 L974.2,106.1 L974.5,107.0 L974.8,107.7 L975.1,108.2 L975.3,108.6 L975.6,108.9 L975.8,109.2 L976.0,109.5 L976.3,109.9 L976.5,110.4 L976.8,111.1 L977.0,112.0 L977.2,113.1 L977.5,114.4 L977.7,115.8 L978.0,117.4 L978.2,119.0 L978.4,120.7 L978.7,122.5 L978.9,124.3 L979.2,126.2 L979.5,128.0 L979.8,130.2 L980.1,132.9 L980.3,136.0 L980.6,139.2 L980.9,142.3 L981.2,145.1 L981.6,147.4 L982.0,148.8 L982.5,149.3 L983.0,148.6 L983.6,146.2 L984.4,141.9 L985.2,136.4 L986.1,130.0 L987.0,123.2 L988.0,116.5 L988.9,110.4 L989.8,105.3 L990.6,101.6 L991.3,100.0 L992.0,100.5 L992.6,102.7 L993.3,106.4 L993.9,111.0 L994.4,116.2 L994.9,121.7 L995.4,127.0 L995.8,131.9 L996.2,135.8 L996.5,138.5" fill="none" stroke="#ffbcbc" stroke-width="1.1"/>
<g stroke="#8a8a8a" stroke-width="1.1" stroke-dasharray="3 2">
<line x1="881.5" y1="42.6" x2="881.5" y2="295.8"/>
<line x1="889.3" y1="42.6" x2="889.3" y2="295.8"/>
</g>
<line x1="886.00" y1="41.20" x2="886.00" y2="47.80" stroke="#ff0000" stroke-width="1.4"/><line x1="888.86" y1="42.85" x2="883.14" y2="46.15" stroke="#ff0000" stroke-width="1.4"/><line x1="888.86" y1="46.15" x2="883.14" y2="42.85" stroke="#ff0000" stroke-width="1.4"/>
<polygon points="866.8,270.8 866.8,279.8 881.1,275.3" fill="#000"/>
<polygon points="903.6,270.8 903.6,279.8 889.4,275.3" fill="#000"/>
<line x1="903" y1="275.5" x2="927" y2="275.5" stroke="#000" stroke-width="1"/>
<text x="51" y="26" font-size="31" text-anchor="start">a</text><text x="403" y="27" font-size="31" text-anchor="start">b</text><text x="721" y="28.5" font-size="31" text-anchor="start">c</text><text x="52" y="137.7" font-size="18" text-anchor="end">0.1</text><text x="52" y="218" font-size="18" text-anchor="end">0.2</text><text x="52" y="296.5" font-size="18" text-anchor="end">0.3</text><text x="50.6" y="53" font-size="18" text-anchor="end">0</text><text x="65.5" y="166.5" font-size="18" text-anchor="end">0.138</text><text x="58" y="315.5" font-size="18" text-anchor="middle">0</text><text x="219" y="315.5" font-size="18" text-anchor="middle">1.13</text><text x="337" y="315.5" font-size="18" text-anchor="middle">2.0</text><text x="191.3" y="336.5" font-size="21" text-anchor="middle">Y direction (m)</text><text transform="translate(18.5 168) rotate(-90)" font-size="21" text-anchor="middle">Depth (m)</text><text x="401" y="50.2" font-size="18" text-anchor="end">0</text><text x="401" y="129.8" font-size="18" text-anchor="end">3</text><text x="401" y="214.3" font-size="18" text-anchor="end">6</text><text x="401" y="298" font-size="18" text-anchor="end">9</text><text x="530" y="314.5" font-size="18" text-anchor="middle">0</text><text x="435.3" y="318.9" font-size="24.5" text-anchor="middle">−</text><text x="625.5" y="319.3" font-size="22.5" text-anchor="middle">+</text><text x="527" y="336" font-size="21" text-anchor="middle">Amplitude (dB)</text><text transform="translate(382.8 170) rotate(-90)" font-size="21" text-anchor="middle">Time (ns)</text><text x="723" y="49.5" font-size="18" text-anchor="end">0</text><text x="723" y="133" font-size="18" text-anchor="end">-10</text><text x="723" y="217" font-size="18" text-anchor="end">-20</text><text x="723" y="300" font-size="18" text-anchor="end">-30</text><text x="722.3" y="78.4" font-size="18" text-anchor="end">-3</text><text x="729" y="315" font-size="18" text-anchor="middle">0</text><text x="867.3" y="315" font-size="18" text-anchor="middle">1.0</text><text x="1007" y="315" font-size="18" text-anchor="middle">2.0</text><text x="861.6" y="336" font-size="21" text-anchor="middle">Y direction (m)</text><text transform="translate(695 157) rotate(-90)" font-size="21" text-anchor="middle">Magnitude (dB)</text><text x="421.3" y="119.4" font-size="21" font-style="italic" style="stroke:#000;stroke-width:0.3">ΔT<tspan font-size="14" dy="3">1</tspan></text><text x="421.3" y="139.9" font-size="21" font-style="italic" style="stroke:#000;stroke-width:0.3">ΔT<tspan font-size="14" dy="3">2</tspan></text><text x="421.3" y="160.4" font-size="21" font-style="italic" style="stroke:#000;stroke-width:0.3">ΔT<tspan font-size="14" dy="3">3</tspan></text><text x="421.3" y="182.7" font-size="21" font-style="italic" style="stroke:#000;stroke-width:0.3">ΔT<tspan font-size="14" dy="3">4</tspan></text><text x="609" y="206.6" font-size="20.5" text-anchor="middle">High</text><text x="609" y="231.6" font-size="20.5" text-anchor="middle">amplitude</text><text x="609" y="256.6" font-size="20.5" text-anchor="middle">area</text><text x="907.6" y="271" font-size="20.5" font-style="italic" style="stroke:#000;stroke-width:0.3">Δw</text><text x="228" y="153" font-size="20.5" font-style="italic" style="fill:#ff0000">P</text><text x="631" y="162" font-size="20.5" font-style="italic" style="fill:#ff0000">P</text><text x="885.5" y="39.5" font-size="20.5" font-style="italic" style="fill:#ff0000">P</text>
</svg>
</body></html>
